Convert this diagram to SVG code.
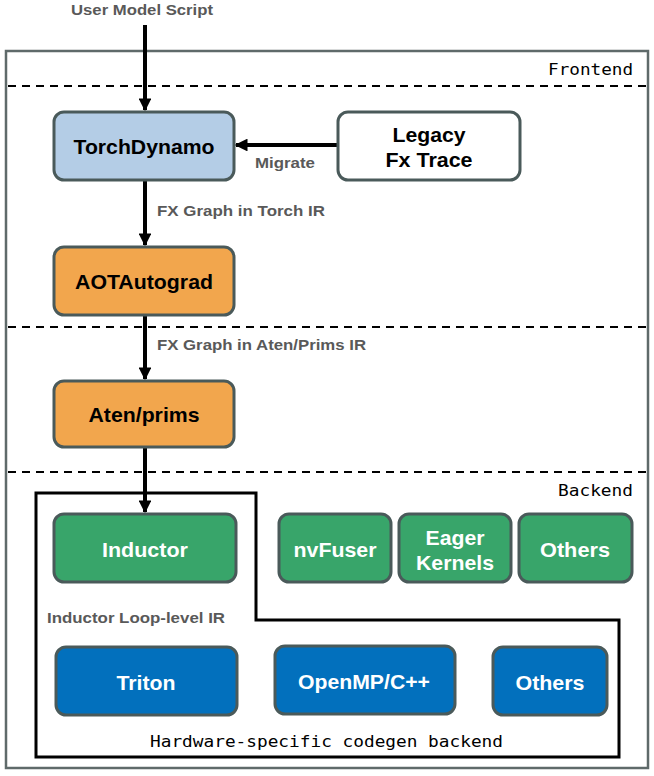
<svg xmlns="http://www.w3.org/2000/svg" width="654" height="776" viewBox="0 0 654 776">
<style>
.n{stroke:#4a5a5a;stroke-width:3}
.t{font-family:"Liberation Sans",Arial,sans-serif;font-weight:bold;font-size:21px;text-anchor:middle}
.w{fill:#fff}
.l{font-family:"Liberation Sans",Arial,sans-serif;font-weight:bold;font-size:15px;fill:#595959}
.m{font-family:"DejaVu Sans Mono",monospace;font-size:16px;fill:#000}
.d{stroke:#000;stroke-width:2;stroke-dasharray:8,6;fill:none}
.c{stroke:#000;stroke-width:4;fill:none;marker-end:url(#a)}
</style>
<defs><marker id="a" viewBox="0 0 10 10" refX="9" refY="5" markerWidth="3.2" markerHeight="3.2" orient="auto" markerUnits="strokeWidth"><path d="M0,0L10,5L0,10z" fill="#000"/></marker></defs>
<rect x="6" y="51" width="642" height="717" fill="#fff" stroke="#5f6a6a" stroke-width="2.5"/>
<path class="d" d="M8,86H646M8,327H646M8,472H646"/>
<text class="m" x="548" y="75" textLength="85" lengthAdjust="spacingAndGlyphs">Frontend</text>
<text class="m" x="558" y="496" textLength="75" lengthAdjust="spacingAndGlyphs">Backend</text>
<path d="M36,493H256V620H619V757H36Z" fill="none" stroke="#000" stroke-width="3"/>
<text class="m" x="150" y="747" textLength="353" lengthAdjust="spacingAndGlyphs">Hardware-specific codegen backend</text>
<text class="l" x="47" y="623" textLength="178" lengthAdjust="spacingAndGlyphs">Inductor Loop-level IR</text>
<text class="l" x="71" y="15" textLength="142" lengthAdjust="spacingAndGlyphs">User Model Script</text>
<text class="l" x="255" y="168" textLength="60" lengthAdjust="spacingAndGlyphs">Migrate</text>
<text class="l" x="157" y="216" textLength="168" lengthAdjust="spacingAndGlyphs">FX Graph in Torch IR</text>
<text class="l" x="157" y="350" textLength="209" lengthAdjust="spacingAndGlyphs">FX Graph in Aten/Prims IR</text>
<g id="connectors">
<path class="c" d="M145,25V110"/>
<path class="c" d="M338,145H236"/>
<path class="c" d="M145,180V245"/>
<path class="c" d="M145,315V379"/>
<path class="c" d="M145,447V512"/>
</g>
<g id="torchdynamo"><rect class="n" x="54" y="112" width="180" height="68" rx="10" fill="#b4cde6"/><text class="t" x="144" y="154" textLength="141" lengthAdjust="spacingAndGlyphs">TorchDynamo</text></g>
<g id="legacy"><rect class="n" x="338" y="112" width="182" height="68" rx="10" fill="#fff"/><text class="t" x="429" y="142" textLength="73" lengthAdjust="spacingAndGlyphs">Legacy</text><text class="t" x="429" y="167" textLength="87" lengthAdjust="spacingAndGlyphs">Fx Trace</text></g>
<g id="aot"><rect class="n" x="54" y="247" width="180" height="68" rx="10" fill="#f2a64d"/><text class="t" x="144" y="289" textLength="138" lengthAdjust="spacingAndGlyphs">AOTAutograd</text></g>
<g id="aten"><rect class="n" x="54" y="381" width="180" height="66" rx="10" fill="#f2a64d"/><text class="t" x="144" y="422" textLength="111" lengthAdjust="spacingAndGlyphs">Aten/prims</text></g>
<g id="inductor"><rect class="n" x="54" y="514" width="182" height="68" rx="10" fill="#38a56a"/><text class="t w" x="145" y="557" textLength="86" lengthAdjust="spacingAndGlyphs">Inductor</text></g>
<g id="nvfuser"><rect class="n" x="279" y="514" width="112" height="68" rx="10" fill="#38a56a"/><text class="t w" x="335" y="557" textLength="83" lengthAdjust="spacingAndGlyphs">nvFuser</text></g>
<g id="eager"><rect class="n" x="399" y="514" width="112" height="68" rx="10" fill="#38a56a"/><text class="t w" x="455" y="545" textLength="59" lengthAdjust="spacingAndGlyphs">Eager</text><text class="t w" x="455" y="570" textLength="78" lengthAdjust="spacingAndGlyphs">Kernels</text></g>
<g id="others1"><rect class="n" x="519" y="514" width="113" height="68" rx="10" fill="#38a56a"/><text class="t w" x="575" y="557" textLength="70" lengthAdjust="spacingAndGlyphs">Others</text></g>
<g id="triton"><rect class="n" x="56" y="647" width="181" height="68" rx="10" fill="#0270bd"/><text class="t w" x="146" y="690" textLength="59" lengthAdjust="spacingAndGlyphs">Triton</text></g>
<g id="openmp"><rect class="n" x="275" y="646" width="180" height="68" rx="10" fill="#0270bd"/><text class="t w" x="364" y="689" textLength="132" lengthAdjust="spacingAndGlyphs">OpenMP/C++</text></g>
<g id="others2"><rect class="n" x="493" y="647" width="114" height="68" rx="10" fill="#0270bd"/><text class="t w" x="550" y="690" textLength="69" lengthAdjust="spacingAndGlyphs">Others</text></g>
</svg>
